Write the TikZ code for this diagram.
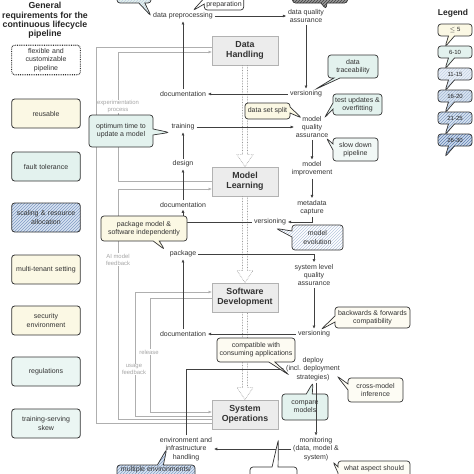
\documentclass[tikz,border=0pt]{standalone}
\usepackage{fontspec}
\setmainfont{Liberation Sans}
\usetikzlibrary{arrows.meta,positioning,calc,shapes.callouts,patterns}
\definecolor{noteyellow}{HTML}{FBF8E4}
\definecolor{notecyan}{HTML}{E3F2EE}
\definecolor{noteblue}{HTML}{D8E4F1}
\definecolor{hatchblue}{HTML}{5F80B5}
\definecolor{boxgray}{HTML}{ECECEC}
\definecolor{loopgray}{HTML}{AFAFAF}

\newcommand{\txtfont}{\fontsize{7}{8.2}\selectfont}
\newcommand{\hdfont}{\bfseries\fontsize{8.8}{10}\selectfont}
\newcommand{\grayfont}{\fontsize{5.9}{7}\selectfont}
% dotted hollow arrow between two stages
\newcommand{\stagearrow}[2]{%
  \draw[hollow] ($(#1.south)+(-2.5,0)$) -- ($(#2.north)+(-2.5,-12)$) -- ($(#2.north)+(-8,-12)$)
    -- (#2.north) -- ($(#2.north)+(8,-12)$) -- ($(#2.north)+(2.5,-12)$) -- ($(#1.south)+(2.5,0)$);}

\begin{document}
\begin{tikzpicture}[x=1pt, y=-1pt,
  stage/.style={draw=black!30, fill=boxgray, line width=0.8pt, minimum width=66pt, minimum height=29pt,
    align=center, font=\hdfont, text=black!80},
  req/.style={draw=black!80, line width=0.8pt, rounded corners=3pt, minimum width=66pt, minimum height=29pt,
    text width=62pt, align=center, font=\txtfont, text=black!80},
  lbl/.style={align=center, font=\txtfont, text=black!80, inner sep=2pt},
  fback/.style={draw=loopgray, line width=0.5pt},
  fbacklbl/.style={font=\grayfont, text=black!35, align=center, fill=white, inner sep=0.5pt},
  flow/.style={draw=black!75, line width=0.6pt, -{Triangle[length=3pt,width=2.6pt]}},
  note/.style={rectangle callout, draw=black!80, line width=0.7pt, rounded corners=3pt, align=center,
    font=\txtfont, text=black!80, inner sep=2pt, callout pointer width=6pt},
  hatch/.style 2 args={preaction={fill=#1}, pattern=north east lines, pattern color=#2},
  hollow/.style={draw=black!40, densely dotted, line width=0.6pt},
]
\useasboundingbox (0,0) rectangle (474,474);
\clip (0,0) rectangle (474,474);

% left column: requirements
\node[font=\bfseries\fontsize{8.8}{9.4}\selectfont, text=black!85, align=center] (reqtitle) at (45,20.5)
  {General\\requirements for the\\continuous lifecycle\\pipeline};
\node[req, fill=white, densely dotted, line width=1.1pt] (flexible) at (46,60) {flexible and\\customizable\\pipeline};
\node[req, fill=noteyellow] (reusable) at (46,113.5) {reusable};
\node[req, fill=notecyan] (fault) at (46,166.5) {fault tolerance};
\node[req, hatch={noteblue}{hatchblue!80}] (scaling) at (46,217.5) {scaling \& resource\\allocation};
\node[req, fill=noteyellow] (tenant) at (46,269.5) {multi-tenant setting};
\node[req, fill=noteyellow] (security) at (46,320.5) {security\\environment};
\node[req, fill=notecyan!70] (regul) at (46,371.5) {regulations};
\node[req, fill=notecyan!70] (skew) at (46,423.5) {training-serving\\skew};

% stages
\node[stage] (dh) at (245,50.5) {Data\\Handling};
\node[stage] (ml) at (245,181.5) {Model\\Learning};
\node[stage] (sd) at (245,297.5) {Software\\Development};
\node[stage] (so) at (245,414.5) {System\\Operations};

% feedback loops
\draw[fback] ($(dh.west)+(0,-3.5)$) -| (96,423) -- ($(so.west)+(0,8.5)$);
\draw[fback, -{Triangle[length=3pt,width=2.6pt]}] ($(ml.west)+(0,-0.5)$) -| (118,52) -- ($(dh.west)+(0,1.5)$);
\draw[fback, -{Triangle[length=3pt,width=2.6pt]}] ($(so.west)+(0,4.5)$) -| (118,189) -- ($(ml.west)+(0,7.5)$);
\draw[fback, -{Triangle[length=3pt,width=2.6pt]}] ($(so.west)+(0,1.5)$) -| (135,292) -- ($(sd.west)+(0,-5.5)$);
\draw[fback, -{Triangle[length=3pt,width=2.6pt]}] ($(sd.west)+(0,0.5)$) -| (150,412) -- ($(so.west)+(0,-2.5)$);
\node[fbacklbl] (expproc) at (118,106.5) {experimentation\\process};
\node[fbacklbl] (aifeed) at (118,259.5) {AI model\\feedback};
\node[fbacklbl] (release) at (149,352) {release};
\node[fbacklbl] (usefeed) at (134,369.5) {usage\\feedback};

\stagearrow{dh}{ml}
\stagearrow{ml}{sd}
\stagearrow{sd}{so}

% workflow steps
\node[lbl] (prep) at (183,16) {data preprocessing};
\node[lbl] (dqa) at (306,16) {data quality\\assurance};
\node[lbl] (ver1) at (306,94) {versioning};
\node[lbl] (doc1) at (183,94) {documentation};
\node[lbl] (train) at (183,127) {training};
\node[lbl] (mqa) at (312,127) {model\\quality\\assurance};
\node[lbl] (design) at (183,164) {design};
\node[lbl] (mimp) at (312,169) {model\\improvement};
\node[lbl] (doc2) at (183,205) {documentation};
\node[lbl] (meta) at (312,207.5) {metadata\\capture};
\node[lbl] (ver2) at (270,222) {versioning};
\node[lbl] (pkg) at (183,254) {package};
\node[lbl] (slqa) at (314,275) {system level\\quality\\assurance};
\node[lbl] (doc3) at (183,334) {documentation};
\node[lbl] (ver3) at (314,334) {versioning};
\node[lbl] (deploy) at (313,369) {deploy\\(incl. deployment\\strategies)};
\node[lbl] (env) at (186,449) {environment and\\infrastructure\\handling};
\node[lbl] (mon) at (316,449) {monitoring\\(data, model \&\\system)};

\draw[flow] (prep) -- (dqa);
\draw[flow] (dqa) -- (ver1);
\draw[flow] (ver1) -- (doc1);
\draw[flow] (doc1) -- (prep);
\draw[flow] (train) -- (mqa);
\draw[flow] (mqa) -- (mimp);
\draw[flow] (mimp) -- (meta);
\draw[flow] (meta.south) |- (ver2.east);
\draw[flow] (ver2.west) -| (doc2.south);
\draw[flow] (doc2) -- (design);
\draw[flow] (design) -- (train);
\draw[flow] (pkg.east) -| (slqa.north);
\draw[flow] (slqa) -- (ver3);
\draw[flow] (ver3) -- (doc3);
\draw[flow] (doc3) -- (pkg);
\draw[flow] (env.north) |- (deploy.west);
\draw[flow] (mon) -- (env);

% notes
\node[note, hatch={notecyan}{hatchblue!40}, minimum width=34pt, minimum height=22pt,
  callout absolute pointer={(prep.west)}] (prepnote) at (134,-8) {};
\node[note, fill=white, minimum width=38pt, text height=16pt, text depth=2pt, anchor=base,
  callout absolute pointer={($(prep.north)+(10,0)$)}] (prepar) at (224,6) {preparation};
\node[note, hatch={black!40}{black!75}, minimum width=55pt, minimum height=22pt,
  callout absolute pointer={($(dqa.north east)+(0,2)$)}] (dqanote) at (320,-8) {};
\node[note, fill=notecyan, minimum width=50pt, minimum height=23pt,
  callout absolute pointer={($(ver1.north)+(9,1)$)}] (trace) at (353,66.5) {data\\traceability};
\node[note, fill=noteyellow, minimum width=45pt, minimum height=16pt,
  callout absolute pointer={($(mqa.north west)+(8,4)$)}] (split) at (267.5,111) {data set split};
\node[note, fill=notecyan, minimum width=49pt, minimum height=21pt,
  callout absolute pointer={($(mqa.north east)+(-6,4)$)}] (testupd) at (357.5,104.5) {test updates \&\\overfitting};
\node[note, fill=notecyan!50, minimum width=45pt, minimum height=23pt,
  callout absolute pointer={($(mqa.south east)+(-4,-2)$)}] (slow) at (355.5,149.5) {slow down\\pipeline};
\node[note, fill=notecyan, minimum width=64pt, minimum height=32pt,
  callout absolute pointer={(train.south west)}] (optimum) at (121,131) {optimum time to\\update a model};
\node[note, fill=noteyellow, minimum width=86pt, minimum height=25pt,
  callout absolute pointer={($(pkg.north west)+(-3,1)$)}] (pkgind) at (144,228.5) {package model \&\\software independently};
\node[note, hatch={white}{hatchblue!45}, minimum width=51pt, minimum height=25pt,
  callout absolute pointer={($(ver2.south)+(6,1)$)}] (evol) at (317.5,237.5) {model\\evolution};
\node[note, fill=noteyellow!50, minimum width=75pt, minimum height=21pt,
  callout absolute pointer={($(ver3.north)+(7,1)$)}] (compat) at (372.5,317.5) {backwards \& forwards\\compatibility};
\node[note, fill=noteyellow!50, minimum width=78pt, minimum height=24pt,
  callout absolute pointer={($(deploy.west)+(5,6)$)}] (consume) at (256,350) {compatible with\\consuming applications};
\node[note, fill=notecyan, minimum width=46pt, minimum height=26pt,
  callout absolute pointer={(deploy.south)}] (compare) at (305,407) {compare\\models};
\node[note, fill=noteyellow!40, minimum width=55pt, minimum height=24pt,
  callout absolute pointer={($(deploy.east)+(-5,7)$)}] (crossm) at (375.5,390) {cross-model\\inference};
\node[note, fill=noteyellow!40, minimum width=72pt, text height=7pt, text depth=14pt, anchor=base,
  callout absolute pointer={($(mon.south east)+(-8,-1)$)}] (aspect) at (374,470) {what aspect should};
\node[note, hatch={noteblue}{hatchblue!75}, minimum width=78pt, text height=4pt, text depth=14pt, anchor=base,
  callout absolute pointer={($(env.west)+(9,0)$)}] (multenv) at (156,471) {multiple environments/};
\node[note, fill=white, minimum width=47pt, minimum height=26pt,
  callout absolute pointer={($(so.south east)+(0,10)$)}] (bottomnote) at (273.5,480) {};

\draw[flow] (deploy.south -| mon) -- (mon);

% legend
\node[font=\bfseries\fontsize{8.5}{10}\selectfont, text=black!85] (legtitle) at (453,13) {Legend};
\tikzset{
  leg1/.style={fill=noteyellow}, leg2/.style={fill=notecyan},
  leg3/.style={hatch={noteblue!60}{hatchblue!35}}, leg4/.style={hatch={noteblue}{hatchblue!55}},
  leg5/.style={hatch={noteblue}{hatchblue!75}}, leg6/.style={hatch={noteblue!90!hatchblue}{hatchblue}}}
\foreach \t [count=\k] in {$\leq$ 5,6-10,11-15,16-20,21-25,26-30} {
  \node[note, leg\k, font=\fontsize{6}{7}\selectfont, text=black!85, minimum width=34pt, minimum height=12pt,
    inner sep=1pt, callout absolute pointer={(445,{25+22*\k})}] (leg\k) at (455,{8+22*\k}) {\t};
}
\end{tikzpicture}
\end{document}
